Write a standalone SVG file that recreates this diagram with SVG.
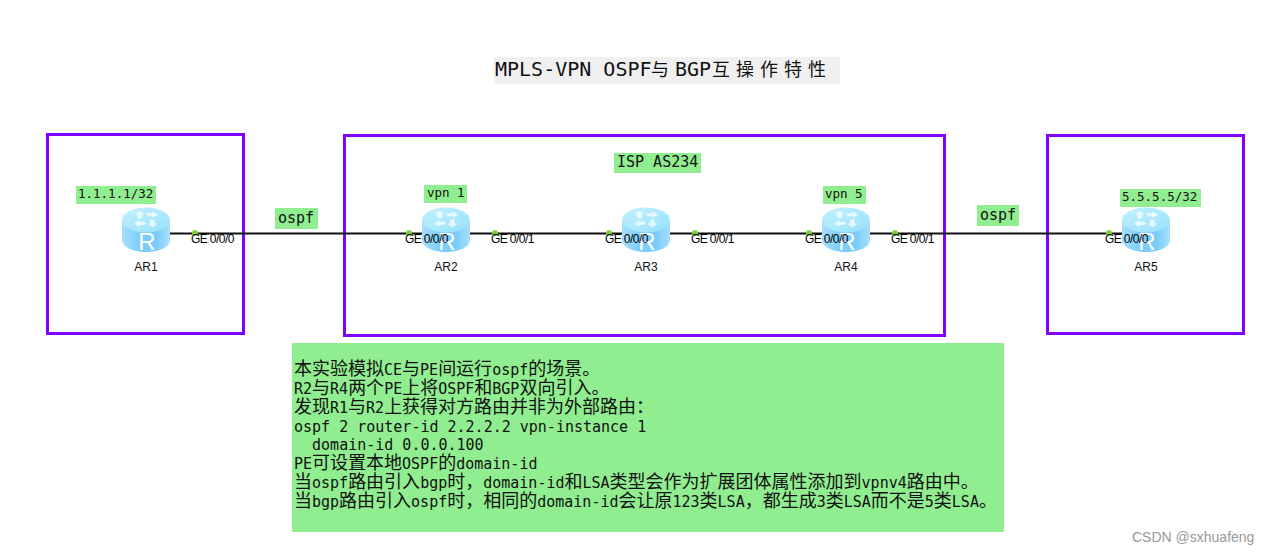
<svg xmlns="http://www.w3.org/2000/svg" width="1270" height="554" viewBox="0 0 1270 554">
<defs>
<linearGradient id="body" x1="0" y1="0" x2="1" y2="0"><stop offset="0" stop-color="#a6e0fc"/><stop offset="0.35" stop-color="#7ecdfb"/><stop offset="0.7" stop-color="#78cbfb"/><stop offset="1" stop-color="#a8e0fd"/></linearGradient>
<linearGradient id="top" x1="0" y1="0" x2="1" y2="1"><stop offset="0" stop-color="#c4effe"/><stop offset="1" stop-color="#96e2fc"/></linearGradient>
<path id="arw" d="M1 -11H8V-14.500L15 -8 8 -1.500V-5H1Z" fill="#e6f9ff"/>
<g id="router">
<path d="M-24 -10V10C-24 17 -13 22 0 22S24 17 24 10V-10Z" fill="url(#body)"/>
<ellipse cx="0" cy="-10" rx="24" ry="12.500" fill="url(#top)"/>
<g transform="translate(0,-11) scale(0.8,0.55)">
<use href="#arw"/><use href="#arw" transform="rotate(90)"/><use href="#arw" transform="rotate(180)"/><use href="#arw" transform="rotate(270)"/>
</g>
</g>
</defs>
<style>
text{font-family:"DejaVu Sans Mono","Liberation Mono","Noto Sans CJK SC",monospace;fill:#111}
.t{font-size:20px}
.c{font-family:"Noto Sans CJK SC","DejaVu Sans",sans-serif}
.t .c{font-size:18px}
.b{font-size:15px}
.b .c{font-size:18px}
.lab{font-size:12.500px}
.big{font-size:15px}
.if{font-family:"Liberation Sans",Arial,sans-serif;font-size:12px;letter-spacing:-0.5px;word-spacing:-0.4px;fill:#000}
.name{font-family:"Liberation Sans",Arial,sans-serif;font-size:12px;text-anchor:middle;fill:#111}
.r{font-family:"Liberation Sans",Arial,sans-serif;font-size:24px;fill:#fff;text-anchor:middle}
.box{fill:none;stroke:#7f00ff;stroke-width:3}
.g{fill:#90ee90}
.dot{fill:#7ed13c}
.wm{font-family:"Liberation Sans",Arial,sans-serif;font-size:14px;fill:#999}
</style>
<rect x="494" y="57" width="346" height="27" fill="#f0f0f0"/>
<text class="t" y="76"><tspan x="495">MPLS-VPN OSPF</tspan><tspan class="c" x="651">与</tspan><tspan x="675">BGP</tspan><tspan class="c" x="712">互</tspan><tspan class="c" x="736">操</tspan><tspan class="c" x="760">作</tspan><tspan class="c" x="784">特</tspan><tspan class="c" x="808">性</tspan></text>
<g id="region-left"><rect class="box" x="47.500" y="134.500" width="196" height="199"/></g>
<g id="region-isp"><rect class="box" x="344.500" y="135.500" width="600" height="200"/></g>
<g id="region-right"><rect class="box" x="1047.500" y="135.500" width="196" height="198"/></g>
<g id="connectors" stroke="#111" stroke-width="2" fill="none">
<path d="M170 233.500H422M470 233.500H622M670 233.500H822M870 233.500H1122"/>
</g>
<g id="AR1"><use href="#router" x="146" y="230"/><text class="r" x="147" y="250">R</text><text class="name" x="146" y="271">AR1</text></g>
<g id="AR2"><use href="#router" x="446" y="230"/><text class="r" x="447" y="250">R</text><text class="name" x="446" y="271">AR2</text></g>
<g id="AR3"><use href="#router" x="646" y="230"/><text class="r" x="647" y="250">R</text><text class="name" x="646" y="271">AR3</text></g>
<g id="AR4"><use href="#router" x="846" y="230"/><text class="r" x="847" y="250">R</text><text class="name" x="846" y="271">AR4</text></g>
<g id="AR5"><use href="#router" x="1146" y="230"/><text class="r" x="1147" y="250">R</text><text class="name" x="1146" y="271">AR5</text></g>
<g id="ports">
<circle class="dot" cx="195" cy="233" r="3"/><text class="if" x="191" y="243">GE 0/0/0</text>
<circle class="dot" cx="409" cy="233" r="3"/><text class="if" x="405" y="243">GE 0/0/0</text>
<circle class="dot" cx="495" cy="233" r="3"/><text class="if" x="491" y="243">GE 0/0/1</text>
<circle class="dot" cx="609" cy="233" r="3"/><text class="if" x="605" y="243">GE 0/0/0</text>
<circle class="dot" cx="695" cy="233" r="3"/><text class="if" x="691" y="243">GE 0/0/1</text>
<circle class="dot" cx="809" cy="233" r="3"/><text class="if" x="805" y="243">GE 0/0/0</text>
<circle class="dot" cx="895" cy="233" r="3"/><text class="if" x="891" y="243">GE 0/0/1</text>
<circle class="dot" cx="1109" cy="233" r="3"/><text class="if" x="1105" y="243">GE 0/0/0</text>
</g>
<g id="labels">
<rect class="g" x="76" y="186" width="80" height="18"/><text class="lab" x="78" y="198">1.1.1.1/32</text>
<rect class="g" x="275" y="208" width="43" height="21"/><text class="big" x="278" y="223">ospf</text>
<rect class="g" x="424" y="185" width="43" height="18"/><text class="lab" x="427" y="197">vpn 1</text>
<rect class="g" x="614" y="153" width="87" height="20"/><text class="big" x="617" y="167">ISP AS234</text>
<rect class="g" x="823" y="186" width="43" height="18"/><text class="lab" x="825" y="198">vpn 5</text>
<rect class="g" x="977" y="205" width="42" height="21"/><text class="big" x="980" y="220">ospf</text>
<rect class="g" x="1120" y="189" width="81" height="18"/><text class="lab" x="1122" y="201">5.5.5.5/32</text>
</g>
<g id="note">
<rect class="g" x="292" y="343" width="712" height="189"/>
<text class="b" x="294" y="375"><tspan class="c">本实验模拟</tspan>CE<tspan class="c">与</tspan>PE<tspan class="c">间运行</tspan>ospf<tspan class="c">的场景。</tspan></text>
<text class="b" x="294" y="394">R2<tspan class="c">与</tspan>R4<tspan class="c">两个</tspan>PE<tspan class="c">上将</tspan>OSPF<tspan class="c">和</tspan>BGP<tspan class="c">双向引入。</tspan></text>
<text class="b" x="294" y="413"><tspan class="c">发现</tspan>R1<tspan class="c">与</tspan>R2<tspan class="c">上获得对方路由并非为外部路由：</tspan></text>
<text class="b" x="294" y="432">ospf 2 router-id 2.2.2.2 vpn-instance 1</text>
<text class="b" x="294" y="450" xml:space="preserve">  domain-id 0.0.0.100</text>
<text class="b" x="294" y="469">PE<tspan class="c">可设置本地</tspan>OSPF<tspan class="c">的</tspan>domain-id</text>
<text class="b" x="294" y="488"><tspan class="c">当</tspan>ospf<tspan class="c">路由引入</tspan>bgp<tspan class="c">时，</tspan>domain-id<tspan class="c">和</tspan>LSA<tspan class="c">类型会作为扩展团体属性添加到</tspan>vpnv4<tspan class="c">路由中。</tspan></text>
<text class="b" x="294" y="507"><tspan class="c">当</tspan>bgp<tspan class="c">路由引入</tspan>ospf<tspan class="c">时，相同的</tspan>domain-id<tspan class="c">会让原</tspan>123<tspan class="c">类</tspan>LSA<tspan class="c">，都生成</tspan>3<tspan class="c">类</tspan>LSA<tspan class="c">而不是</tspan>5<tspan class="c">类</tspan>LSA<tspan class="c">。</tspan></text>
</g>
<text class="wm" x="1132" y="542">CSDN @sxhuafeng</text>
</svg>
